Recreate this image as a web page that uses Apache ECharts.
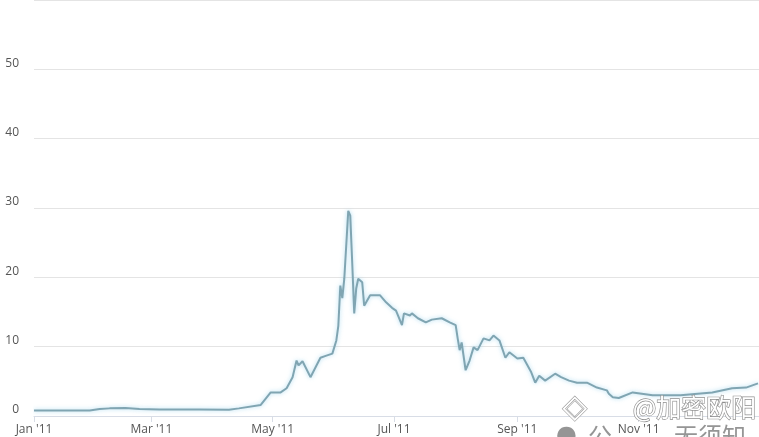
<!DOCTYPE html>
<html>
<head>
<meta charset="utf-8">
<script src="https://cdn.jsdelivr.net/npm/echarts@6/dist/echarts.min.js"></script>
<style>
html,body{margin:0;padding:0;background:#fff;}
#c{width:759px;height:437px;}
</style>
</head>
<body>
<div id="c"></div>
<script>
// Dates and price values (2011)
const dates = [
 '2011-01-01','2011-01-14','2011-01-29','2011-02-03','2011-02-08','2011-02-16','2011-02-23',
 '2011-03-05','2011-03-25','2011-04-09','2011-04-14','2011-04-25','2011-04-30',
 '2011-05-05','2011-05-08','2011-05-11','2011-05-13','2011-05-14','2011-05-16','2011-05-20',
 '2011-05-25','2011-05-28','2011-05-31','2011-06-02','2011-06-03','2011-06-04','2011-06-05',
 '2011-06-06','2011-06-08','2011-06-09','2011-06-10','2011-06-11','2011-06-12','2011-06-13',
 '2011-06-15','2011-06-16','2011-06-19','2011-06-24','2011-06-27','2011-06-30',
 '2011-07-02','2011-07-05','2011-07-06','2011-07-09','2011-07-10','2011-07-13','2011-07-17',
 '2011-07-20','2011-07-25','2011-07-29','2011-08-01','2011-08-02','2011-08-03','2011-08-04',
 '2011-08-06','2011-08-08','2011-08-10','2011-08-12','2011-08-15','2011-08-18','2011-08-20',
 '2011-08-23','2011-08-26','2011-08-28','2011-09-01','2011-09-04','2011-09-08','2011-09-10',
 '2011-09-12','2011-09-15','2011-09-20','2011-09-23','2011-09-27','2011-10-01','2011-10-06',
 '2011-10-11','2011-10-16','2011-10-17','2011-10-19','2011-10-22','2011-10-29','2011-11-08',
 '2011-11-22','2011-12-08','2011-12-18','2011-12-25','2011-12-31'
];
const prices = [
 0.8,0.8,0.8,1.0,1.1,1.15,1.0,
 0.95,0.95,0.9,1.1,1.6,3.4,
 3.4,4.0,5.6,8.0,7.3,7.9,5.6,
 8.4,8.7,9.0,10.9,13.0,18.8,17.0,
 19.8,29.6,28.9,22.0,14.8,18.4,19.8,
 19.3,15.9,17.4,17.4,16.4,15.6,
 15.2,13.1,14.8,14.5,14.8,14.1,13.5,
 13.9,14.1,13.5,13.1,11.2,9.5,10.6,
 6.6,8.0,9.9,9.5,11.2,10.9,11.6,
 10.9,8.4,9.2,8.3,8.4,6.3,4.8,
 5.8,5.1,6.1,5.6,5.1,4.8,4.8,
 4.1,3.7,3.2,2.7,2.6,3.4,3.0,
 3.0,3.4,4.0,4.1,4.7
];
const tickDates = ['2011-01-01','2011-03-01','2011-05-01','2011-07-01','2011-09-01','2011-11-01'];
const tickLabels = ["Jan '11","Mar '11","May '11","Jul '11","Sep '11","Nov '11"];
const xRange = ['2011-01-01','2012-01-01'];
const yTicks = [0,10,20,30,40,50,60];

const ts = d => Date.UTC(+d.slice(0,4), +d.slice(5,7) - 1, +d.slice(8,10));
const tickTimes = tickDates.map(ts);
const seriesData = dates.map((d, i) => [ts(d), prices[i]]);

const chart = echarts.init(document.getElementById('c'), null, {renderer: 'canvas'});
chart.setOption({
  animation: false,
  backgroundColor: '#ffffff',
  grid: {left: 34, right: -1, top: 0, bottom: 21, containLabel: false, outerBoundsMode: 'none'},
  xAxis: {
    type: 'value',
    min: ts(xRange[0]),
    max: ts(xRange[1]),
    axisLine: {show: true, onZero: false, lineStyle: {color: '#d8dde6', width: 1}},
    axisTick: {show: true, customValues: tickTimes, length: 6, lineStyle: {color: '#d8dde6'}},
    splitLine: {show: false},
    axisLabel: {
      customValues: tickTimes,
      margin: 8,
      color: '#555',
      fontFamily: 'Open Sans, sans-serif',
      fontSize: 12,
      formatter: function (v) {
        const i = tickTimes.findIndex(t => Math.abs(t - v) < 43200000);
        return i >= 0 ? tickLabels[i] : '';
      }
    }
  },
  yAxis: {
    type: 'value',
    min: yTicks[0],
    max: yTicks[yTicks.length - 1],
    interval: 10,
    axisLine: {show: false},
    axisTick: {show: false},
    splitLine: {show: true, lineStyle: {color: '#e4e4e4', width: 1}},
    axisLabel: {
      showMaxLabel: false,
      margin: 15,
      color: '#555',
      fontFamily: 'Open Sans, sans-serif',
      fontSize: 12,
      verticalAlign: 'bottom'
    }
  },
  series: [{
    type: 'line',
    data: seriesData,
    showSymbol: false,
    symbol: 'none',
    lineStyle: {color: '#80a5b2', width: 2, shadowColor: 'rgba(140,205,235,0.7)', shadowBlur: 4},
    z: 3
  }],
  graphic: [
    {type: 'text', left: 556, top: 424, z: 10,
     style: {text: '●', fill: 'rgba(130,130,130,0.85)', font: '24px "DejaVu Sans", sans-serif'}},
    {type: 'text', left: 588, top: 424, z: 10,
     style: {text: '公', fill: 'rgba(130,130,130,0.85)', font: '24px "Noto Sans CJK SC", sans-serif'}},
    {type: 'text', left: 674, top: 424, z: 10,
     style: {text: '无须知', fill: 'rgba(130,130,130,0.85)', font: '24px "Noto Sans CJK SC", sans-serif'}},
    {type: 'text', left: 562, top: 392, z: 11,
     style: {text: '◈', fill: '#ffffff', stroke: '#9a9a9a', lineWidth: 1.2, font: '32px "DejaVu Sans", sans-serif'}},
    {type: 'text', left: 632, top: 394, z: 11,
     style: {text: '@加密欧阳', fill: '#ffffff', stroke: '#8f8f8f', lineWidth: 1.3, font: '25px "Noto Sans CJK SC", sans-serif'}}
  ]
});
</script>
</body>
</html>
